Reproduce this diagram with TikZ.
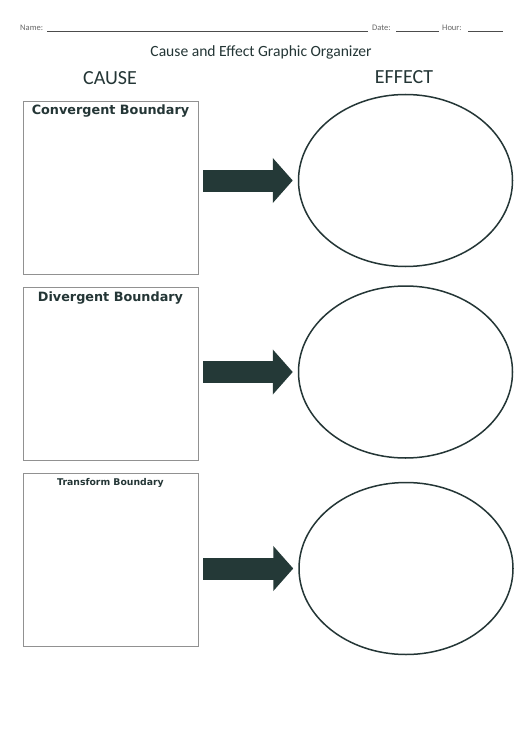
\documentclass[tikz,border=0pt]{standalone}
\usepackage{fontspec}
\setmainfont{Carlito}
\newfontfamily\boxfont{DejaVu Sans}
\usetikzlibrary{arrows.meta,positioning,shapes.geometric}
\definecolor{organizerInk}{RGB}{36,54,54}
\definecolor{organizerGray}{RGB}{145,145,145}
\definecolor{organizerArrow}{RGB}{36,57,55}

\begin{document}
\begin{tikzpicture}[
  x=1pt, y=-1pt,
  causebox/.style={
    draw=organizerGray,
    line width=0.9pt,
    minimum width=175pt,
    minimum height=173pt,
    inner sep=0pt
  },
  effectoval/.style={
    draw=organizerInk,
    ellipse,
    line width=1.5pt,
    minimum width=214pt,
    minimum height=172pt,
    inner sep=0pt
  },
  boxlabel/.style={font=\boxfont\bfseries\fontsize{12.8}{14}\selectfont,text=organizerInk,inner sep=0pt},
  heading/.style={font=\fontsize{20}{24}\selectfont,text=organizerInk},
  formlabel/.style={font=\fontsize{8.5}{10}\selectfont,text=black!60,inner sep=0pt,anchor=base west},
  blank/.style={black!70,line width=0.6pt},
  blockarrow/.style={
    organizerArrow,
    line width=22pt,
    -{Triangle[width=44pt,length=20pt]},
    shorten <=5pt,
    shorten >=5pt
  }
]
  \fill[white] (0,0) rectangle (530,749);
  \useasboundingbox (0,0) rectangle (530,749);

  % header
  \node[formlabel] (namelbl) at (20,31) {Name:};
  \node[formlabel] (datelbl) at (372,31) {Date:};
  \node[formlabel] (hourlbl) at (442,31) {Hour:};
  \draw[blank] (47,31) -- (368,31);
  \draw[blank] (396,31) -- (439,31);
  \draw[blank] (468,31) -- (503,31);

  \node[font=\fontsize{15.6}{18}\selectfont,text=organizerInk] (title) at (261,52)
    {Cause and Effect Graphic Organizer};
  \node[heading] (causehead) at (110,78) {CAUSE};
  \node[heading] (effecthead) at (404,77) {EFFECT};

  % cause boxes
  \node[causebox] (cause1) at (110.5,187.5) {};
  \node[causebox, below=13pt of cause1] (cause2) {};
  \node[causebox, below=12pt of cause2] (cause3) {};
  \node[boxlabel, below=4pt of cause1.north] {Convergent Boundary};
  \node[boxlabel, below=4pt of cause2.north] {Divergent Boundary};
  \node[boxlabel, font=\boxfont\bfseries\fontsize{9.3}{11}\selectfont,
    below=5pt of cause3.north] {Transform Boundary};

  % effect ovals
  \node[effectoval] (effect1) at (405.5,180.5) {};
  \node[effectoval] (effect2) at (405.5,372) {};
  \node[effectoval] (effect3) at (406,568.5) {};

  % arrows
  \draw[blockarrow] (cause1.east |- effect1.west) -- (effect1.west);
  \draw[blockarrow] (cause2.east |- effect2.west) -- (effect2.west);
  \draw[blockarrow] (cause3.east |- effect3.west) -- (effect3.west);
\end{tikzpicture}
\end{document}
